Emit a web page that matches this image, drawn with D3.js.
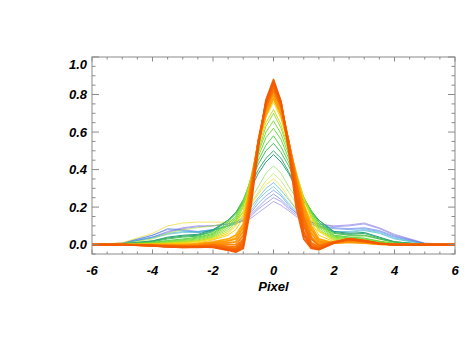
<!DOCTYPE html>
<html>
<head>
<meta charset="utf-8">
<script src="https://cdn.jsdelivr.net/npm/d3@7"></script>
<style>
  body { margin: 0; background: #fff; }
  text { font-family: "Liberation Sans", Arial, sans-serif; font-weight: bold; font-style: italic; }
</style>
</head>
<body>
<svg id="chart" width="474" height="342"></svg>
<script>
// pixel positions of the samples
const pixel = [-6, -5, -4, -3.5, -3, -2.5, -2, -1.5, -1.25, -1, -0.75, -0.5, -0.25, 0,
               0.25, 0.5, 0.75, 1, 1.25, 1.5, 2, 2.5, 3, 3.5, 4, 5, 6]

// profiles, broad/low (purple) to narrow/high (orange)
const purple23 = [0, 0.006, 0.04, 0.065, 0.085, 0.095, 0.1, 0.11, 0.115, 0.125, 0.14, 0.17, 0.2, 0.23, 0.21, 0.18, 0.15, 0.13, 0.12, 0.11, 0.1, 0.105, 0.115, 0.09, 0.055, 0.008, 0]
const purple25 = [0, 0.006, 0.04, 0.07, 0.09, 0.1, 0.1, 0.11, 0.12, 0.13, 0.15, 0.19, 0.22, 0.25, 0.23, 0.19, 0.16, 0.14, 0.12, 0.11, 0.095, 0.1, 0.11, 0.085, 0.05, 0.006, 0]
const blue27 = [0, 0.008, 0.05, 0.085, 0.08, 0.07, 0.08, 0.1, 0.11, 0.13, 0.16, 0.2, 0.24, 0.27, 0.24, 0.2, 0.17, 0.14, 0.12, 0.1, 0.09, 0.085, 0.09, 0.075, 0.045, 0.006, 0]
const blue29 = [0, 0.008, 0.05, 0.08, 0.075, 0.065, 0.075, 0.1, 0.12, 0.14, 0.17, 0.22, 0.26, 0.29, 0.26, 0.21, 0.17, 0.14, 0.11, 0.095, 0.085, 0.08, 0.085, 0.07, 0.04, 0.005, 0]
const cyan31 = [0, 0.006, 0.04, 0.06, 0.07, 0.07, 0.08, 0.1, 0.11, 0.13, 0.18, 0.24, 0.28, 0.31, 0.27, 0.22, 0.18, 0.14, 0.11, 0.09, 0.07, 0.07, 0.08, 0.065, 0.035, 0.004, 0]
const cyan33 = [0, 0.006, 0.035, 0.055, 0.065, 0.065, 0.075, 0.1, 0.12, 0.15, 0.2, 0.25, 0.3, 0.33, 0.29, 0.24, 0.19, 0.15, 0.12, 0.1, 0.07, 0.065, 0.075, 0.06, 0.03, 0.003, 0]
const pale35 = [0, 0.01, 0.06, 0.1, 0.115, 0.12, 0.12, 0.12, 0.13, 0.16, 0.21, 0.27, 0.32, 0.35, 0.31, 0.25, 0.19, 0.14, 0.1, 0.07, 0.04, 0.03, 0.03, 0.02, 0.008, 0, 0]
const pale38 = [0, 0.005, 0.03, 0.06, 0.08, 0.09, 0.1, 0.12, 0.14, 0.17, 0.22, 0.28, 0.34, 0.38, 0.34, 0.28, 0.22, 0.17, 0.13, 0.1, 0.06, 0.05, 0.05, 0.035, 0.015, 0.001, 0]
const pale42 = [0, 0.004, 0.02, 0.035, 0.045, 0.05, 0.065, 0.1, 0.13, 0.17, 0.24, 0.31, 0.38, 0.42, 0.38, 0.31, 0.25, 0.19, 0.14, 0.1, 0.05, 0.04, 0.045, 0.03, 0.012, 0, 0]
const teal48 = [0, 0.004, 0.02, 0.04, 0.05, 0.055, 0.08, 0.13, 0.17, 0.22, 0.3, 0.38, 0.44, 0.48, 0.44, 0.38, 0.3, 0.23, 0.17, 0.13, 0.07, 0.06, 0.065, 0.04, 0.015, 0.001, 0]
const teal50 = [0, 0.003, 0.018, 0.035, 0.045, 0.05, 0.075, 0.13, 0.17, 0.23, 0.32, 0.4, 0.46, 0.5, 0.46, 0.39, 0.31, 0.24, 0.18, 0.13, 0.065, 0.055, 0.06, 0.035, 0.015, 0.001, 0]
const teal54 = [0, 0.003, 0.015, 0.03, 0.04, 0.045, 0.07, 0.13, 0.17, 0.24, 0.34, 0.43, 0.5, 0.54, 0.49, 0.42, 0.33, 0.25, 0.18, 0.12, 0.06, 0.05, 0.05, 0.03, 0.012, 0, 0]
const green58 = [0, 0.002, 0.012, 0.022, 0.03, 0.04, 0.06, 0.12, 0.16, 0.23, 0.34, 0.45, 0.53, 0.58, 0.52, 0.44, 0.34, 0.25, 0.18, 0.12, 0.05, 0.04, 0.035, 0.018, 0.006, 0, 0]
const green62 = [0, 0.002, 0.01, 0.018, 0.026, 0.035, 0.055, 0.11, 0.15, 0.23, 0.35, 0.47, 0.57, 0.62, 0.56, 0.46, 0.35, 0.25, 0.17, 0.11, 0.045, 0.035, 0.03, 0.015, 0.005, 0, 0]
const green66 = [0, 0.001, 0.008, 0.015, 0.022, 0.03, 0.05, 0.1, 0.14, 0.22, 0.35, 0.49, 0.6, 0.66, 0.59, 0.48, 0.36, 0.25, 0.17, 0.1, 0.04, 0.03, 0.025, 0.012, 0.004, 0, 0]
const green70 = [0, 0.001, 0.006, 0.012, 0.018, 0.025, 0.045, 0.09, 0.13, 0.21, 0.35, 0.5, 0.63, 0.7, 0.62, 0.5, 0.37, 0.25, 0.16, 0.09, 0.035, 0.025, 0.02, 0.01, 0.003, 0, 0]
const green78 = [0, 0, 0.005, 0.01, 0.015, 0.02, 0.04, 0.08, 0.12, 0.2, 0.36, 0.55, 0.7, 0.78, 0.69, 0.54, 0.39, 0.25, 0.15, 0.08, 0.03, 0.02, 0.016, 0.007, 0.002, 0, 0]
const yellow72 = [0, 0, 0.004, 0.008, 0.012, 0.02, 0.035, 0.07, 0.11, 0.18, 0.34, 0.52, 0.65, 0.72, 0.64, 0.51, 0.38, 0.25, 0.15, 0.08, 0.025, 0.018, 0.014, 0.006, 0.001, 0, 0]
const yellow76 = [0, 0, 0.003, 0.006, 0.01, 0.016, 0.03, 0.06, 0.1, 0.16, 0.34, 0.54, 0.68, 0.76, 0.67, 0.53, 0.38, 0.24, 0.14, 0.07, 0.02, 0.015, 0.012, 0.005, 0, 0, 0]
const yellow80 = [0, 0, 0.002, 0.004, 0.006, 0.01, 0.025, 0.05, 0.08, 0.14, 0.33, 0.55, 0.71, 0.8, 0.7, 0.55, 0.38, 0.22, 0.12, 0.05, 0.015, 0.015, 0.012, 0.004, 0, 0, 0]
const yellow85 = [0, 0, 0, -0.002, -0.002, 0, 0.01, 0.02, 0.04, 0.1, 0.32, 0.56, 0.75, 0.85, 0.74, 0.56, 0.37, 0.19, 0.08, 0.02, 0.01, 0.015, 0.01, 0.003, 0, 0, 0]
const orange78 = [0, 0, 0, 0, 0, 0.005, 0.015, 0.03, 0.05, 0.11, 0.33, 0.54, 0.69, 0.78, 0.69, 0.54, 0.37, 0.21, 0.1, 0.03, 0.008, 0.012, 0.008, 0.002, 0, 0, 0]
const orange80 = [0, 0, 0, -0.002, -0.003, 0, 0.01, 0.02, 0.03, 0.09, 0.32, 0.55, 0.71, 0.8, 0.71, 0.55, 0.36, 0.19, 0.08, 0.02, 0.008, 0.015, 0.01, 0.003, 0, 0, 0]
const orange83 = [0, 0, -0.002, -0.004, -0.005, -0.003, 0.005, 0.01, 0.015, 0.07, 0.31, 0.55, 0.73, 0.83, 0.73, 0.55, 0.35, 0.17, 0.06, 0.01, 0.01, 0.018, 0.012, 0.004, 0, 0, 0]
const orange86 = [0, 0, -0.003, -0.006, -0.008, -0.006, 0, 0, 0, 0.05, 0.3, 0.56, 0.75, 0.86, 0.75, 0.55, 0.34, 0.15, 0.04, 0, 0.012, 0.022, 0.015, 0.004, 0, 0, 0]
const red82 = [0, 0, -0.004, -0.008, -0.01, -0.008, -0.002, -0.01, -0.012, 0.03, 0.28, 0.55, 0.73, 0.82, 0.73, 0.55, 0.33, 0.14, 0.03, -0.005, 0.015, 0.028, 0.018, 0.005, 0, 0, 0]
const red84 = [0, 0, -0.005, -0.01, -0.012, -0.01, -0.005, -0.015, -0.02, 0.02, 0.27, 0.55, 0.74, 0.84, 0.74, 0.55, 0.32, 0.12, 0.01, -0.012, 0.015, 0.03, 0.02, 0.005, 0, 0, 0]
const red85 = [0, 0, -0.004, -0.008, -0.01, -0.01, -0.008, -0.02, -0.025, 0.01, 0.26, 0.55, 0.75, 0.85, 0.75, 0.54, 0.3, 0.1, 0, -0.018, 0.012, 0.032, 0.022, 0.006, 0, 0, 0]
const red86 = [0, 0, -0.006, -0.012, -0.015, -0.014, -0.012, -0.025, -0.03, 0, 0.24, 0.54, 0.76, 0.86, 0.75, 0.53, 0.27, 0.07, -0.01, -0.022, 0.012, 0.03, 0.02, 0.006, 0, 0, 0]
const red87 = [0, 0, -0.005, -0.01, -0.012, -0.012, -0.012, -0.028, -0.036, -0.01, 0.22, 0.53, 0.76, 0.87, 0.76, 0.52, 0.24, 0.05, -0.015, -0.025, 0.01, 0.028, 0.018, 0.005, 0, 0, 0]
const red88 = [0, 0, -0.006, -0.01, -0.014, -0.012, -0.015, -0.03, -0.04, -0.02, 0.2, 0.52, 0.77, 0.88, 0.76, 0.5, 0.2, 0.03, -0.02, -0.027, 0.008, 0.03, 0.02, 0.006, 0, 0, 0]

const series = [purple23, purple25, blue27, blue29, cyan31, cyan33, pale35, pale38, pale42,
                teal48, teal50, teal54, green58, green62, green66, green70, green78,
                yellow72, yellow76, yellow80, yellow85, orange78, orange80, orange83, orange86,
                red82, red84, red85, red86, red87, red88]
// colour table index of each profile (0 = purple, 1 = red-orange)
const levels = [0.02, 0.06, 0.14, 0.18, 0.3, 0.34, 0.74, 0.66, 0.6,
                0.42, 0.46, 0.5, 0.55, 0.58, 0.6, 0.62, 0.64,
                0.7, 0.74, 0.78, 0.82, 0.88, 0.9, 0.92, 0.94,
                0.96, 0.97, 0.98, 0.99, 1.0, 1.0]

const xTicks = [-6, -4, -2, 0, 2, 4, 6]
const yTicks = [0, 0.2, 0.4, 0.6, 0.8, 1.0]

const svg = d3.select('#chart')
const plotLeft = 92, plotRight = 455, plotTop = 57, plotBottom = 254

const x = d3.scaleLinear().domain([-6, 6]).range([plotLeft, plotRight])
const y = d3.scaleLinear().domain([-0.05, 1.0]).range([plotBottom, plotTop])

const color = d3.scaleLinear()
    .domain([0, 0.15, 0.3, 0.42, 0.55, 0.65, 0.75, 0.85, 0.93, 1.0])
    .range(['#8f6fe0', '#4f72e6', '#35b2dc', '#1f9a7c', '#4fd23c', '#a6e22e',
            '#f7d600', '#ffb000', '#ff8a00', '#f25a00'])

svg.append('clipPath').attr('id', 'clip')
  .append('rect')
    .attr('x', plotLeft).attr('y', plotTop)
    .attr('width', plotRight - plotLeft).attr('height', plotBottom - plotTop)

const line = d3.line()
    .x((d, i) => x(pixel[i]))
    .y(d => y(d))

svg.append('g')
    .attr('clip-path', 'url(#clip)')
  .selectAll('path')
  .data(series)
  .join('path')
    .attr('d', line)
    .attr('fill', 'none')
    .attr('stroke', (d, i) => color(levels[i]))
    .attr('stroke-width', (d, i) => levels[i] > 0.87 ? 1.8 : 1)
    .attr('stroke-opacity', d => d3.max(d) < 0.45 ? 0.6 : 0.95)
    .attr('stroke-linejoin', 'round')

// IDL-style box with inward ticks
const axisColor = '#8a8a8a'
const frame = svg.append('g')
frame.append('rect')
    .attr('x', plotLeft).attr('y', plotTop)
    .attr('width', plotRight - plotLeft).attr('height', plotBottom - plotTop)
    .attr('fill', 'none').attr('stroke', axisColor).attr('stroke-width', 1)

const xMinor = d3.range(-6, 6.01, 0.5)
const yMinor = d3.range(-0.05, 1.001, 0.05)

xMinor.forEach(v => {
  const major = Math.abs(v / 2 - Math.round(v / 2)) < 1e-6
  const len = major ? 4.5 : 2.5
  frame.append('line').attr('x1', x(v)).attr('x2', x(v)).attr('y1', plotBottom).attr('y2', plotBottom - len)
    .attr('stroke', axisColor)
  frame.append('line').attr('x1', x(v)).attr('x2', x(v)).attr('y1', plotTop).attr('y2', plotTop + len)
    .attr('stroke', axisColor)
})
yMinor.forEach(v => {
  const major = Math.abs(v / 0.2 - Math.round(v / 0.2)) < 1e-6
  const len = major ? 7 : 3.5
  frame.append('line').attr('x1', plotLeft).attr('x2', plotLeft + len).attr('y1', y(v)).attr('y2', y(v))
    .attr('stroke', axisColor)
  frame.append('line').attr('x1', plotRight).attr('x2', plotRight - len).attr('y1', y(v)).attr('y2', y(v))
    .attr('stroke', axisColor)
})

// tick labels (plain hyphen minus, as in the original)
svg.append('g').selectAll('text')
  .data(xTicks)
  .join('text')
    .attr('x', d => x(d))
    .attr('y', 275)
    .attr('text-anchor', 'middle')
    .attr('font-size', 13)
    .text(d => String(d))

svg.append('g').selectAll('text')
  .data(yTicks)
  .join('text')
    .attr('x', 87)
    .attr('y', d => y(d) + (d === 1 ? 11.5 : 4.5))
    .attr('text-anchor', 'end')
    .attr('font-size', 13)
    .text(d => d.toFixed(1))

svg.append('text')
    .attr('x', x(0))
    .attr('y', 291)
    .attr('text-anchor', 'middle')
    .attr('font-size', 13)
    .text('Pixel')
</script>
</body>
</html>
